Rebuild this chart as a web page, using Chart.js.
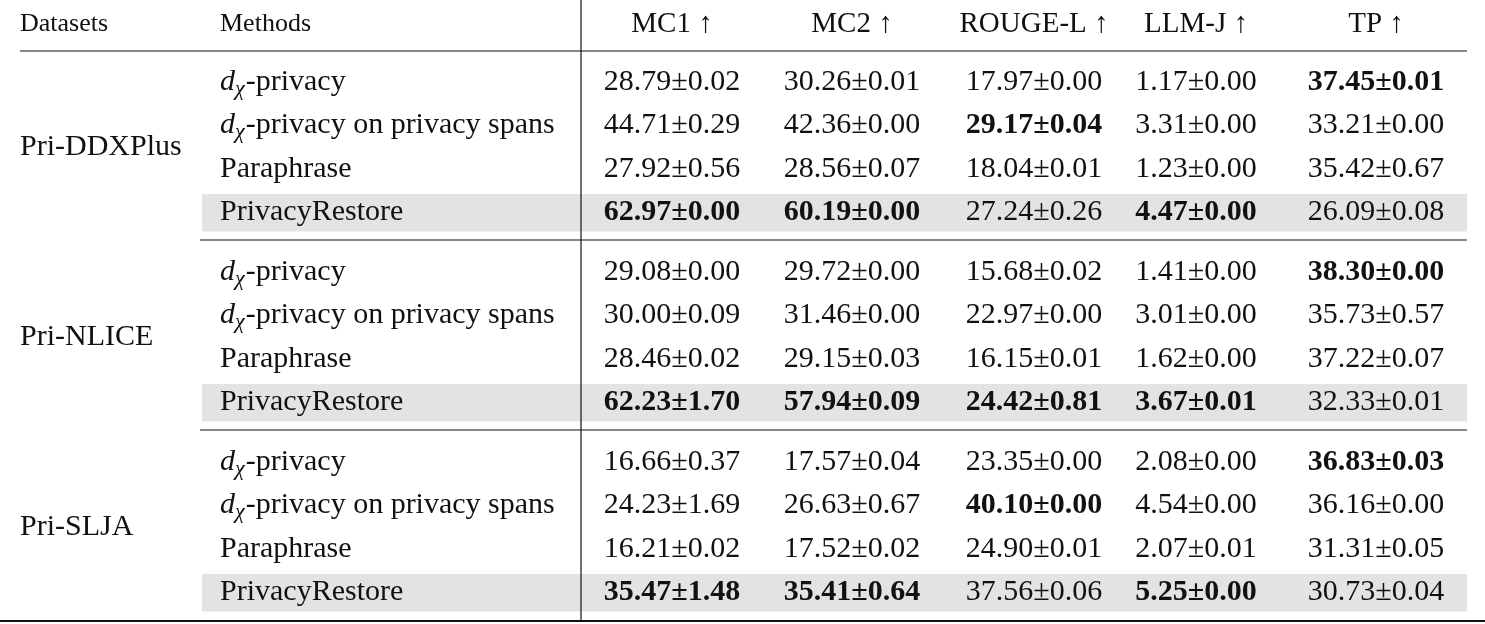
<!DOCTYPE html>
<html><head><meta charset="utf-8">
<script src="https://cdn.jsdelivr.net/npm/chart.js@4"></script>
<style>html,body{margin:0;padding:0;background:#fff}#w{width:1485px;height:624px}</style>
</head><body><div id="w"><canvas id="c"></canvas></div>
<script>
const headers = ["Datasets","Methods","MC1 ↑","MC2 ↑","ROUGE-L ↑","LLM-J ↑","TP ↑"];
const datasets = ["Pri-DDXPlus","Pri-NLICE","Pri-SLJA"];
const methods = ["DX","DXSPAN","Paraphrase","PrivacyRestore"];
const mc1 = [["28.79","0.02"],["44.71","0.29"],["27.92","0.56"],["62.97","0.00"],["29.08","0.00"],["30.00","0.09"],["28.46","0.02"],["62.23","1.70"],["16.66","0.37"],["24.23","1.69"],["16.21","0.02"],["35.47","1.48"]];
const mc2 = [["30.26","0.01"],["42.36","0.00"],["28.56","0.07"],["60.19","0.00"],["29.72","0.00"],["31.46","0.00"],["29.15","0.03"],["57.94","0.09"],["17.57","0.04"],["26.63","0.67"],["17.52","0.02"],["35.41","0.64"]];
const rouge = [["17.97","0.00"],["29.17","0.04"],["18.04","0.01"],["27.24","0.26"],["15.68","0.02"],["22.97","0.00"],["16.15","0.01"],["24.42","0.81"],["23.35","0.00"],["40.10","0.00"],["24.90","0.01"],["37.56","0.06"]];
const llmj = [["1.17","0.00"],["3.31","0.00"],["1.23","0.00"],["4.47","0.00"],["1.41","0.00"],["3.01","0.00"],["1.62","0.00"],["3.67","0.01"],["2.08","0.00"],["4.54","0.00"],["2.07","0.01"],["5.25","0.00"]];
const tp = [["37.45","0.01"],["33.21","0.00"],["35.42","0.67"],["26.09","0.08"],["38.30","0.00"],["35.73","0.57"],["37.22","0.07"],["32.33","0.01"],["36.83","0.03"],["36.16","0.00"],["31.31","0.05"],["30.73","0.04"]];
const bold = {0:[3,7,11],1:[3,7,11],2:[1,7,9],3:[3,7,11],4:[0,4,8]};
const cols = [mc1,mc2,rouge,llmj,tp];

// layout
const colX = [20,220,672,852,1034,1196,1376];
const headY = 24, groupTop = [82,272,462], rowStep = 43.5;
const FONT = '"Liberation Serif","DejaVu Serif",serif';

const pts = [];
cols.forEach((c,ci)=>c.forEach((v,ri)=>pts.push({x:colX[ci+2], y:groupTop[Math.floor(ri/4)]+(ri%4)*rowStep, ci, ri})));

function txt(ctx,s,x,y,opts={}){
  ctx.font=(opts.b?'bold ':'')+(opts.i?'italic ':'')+(opts.size||30)+'px '+FONT;
  ctx.textAlign=opts.align||'left'; ctx.textBaseline='middle'; ctx.fillStyle='#111';
  ctx.fillText(s,x,y); return ctx.measureText(s).width;
}
const tablePlugin = {id:'tbl', afterDraw(chart){
  const ctx=chart.ctx, X=chart.scales.x, Y=chart.scales.y;
  const px=v=>X.getPixelForValue(v), py=v=>Y.getPixelForValue(v);
  ctx.save();
  ctx.fillStyle='#e3e3e3';
  groupTop.forEach(g=>{const yc=g+3*rowStep; ctx.fillRect(px(202),py(yc-18.5),px(1467)-px(202),py(yc+19)-py(yc-18.5));});
  ctx.strokeStyle='#111';
  const hl=(x0,x1,y,w)=>{ctx.lineWidth=w;ctx.beginPath();ctx.moveTo(px(x0),py(y));ctx.lineTo(px(x1),py(y));ctx.stroke();};
  hl(20,1467,51,1.2); hl(200,1467,240,1.2); hl(200,1467,430,1.2); hl(0,1485,621,2);
  ctx.lineWidth=1.2; ctx.beginPath(); ctx.moveTo(px(581),py(0)); ctx.lineTo(px(581),py(621)); ctx.stroke();
  headers.forEach((h,i)=>txt(ctx,h,px(colX[i]),py(headY),{align:i<2?'left':'center',size:i<2?26:29}));
  datasets.forEach((d,g)=>{
    txt(ctx,d,px(colX[0]),py(groupTop[g]+1.5*rowStep));
    methods.forEach((m,k)=>{
      const x=px(colX[1]), y=py(groupTop[g]+k*rowStep);
      if(m==='DX'||m==='DXSPAN'){
        let w=txt(ctx,'d',x,y,{i:true});
        let w2=txt(ctx,'χ',x+w,y+7,{i:true,size:22});
        txt(ctx,m==='DX'?'-privacy':'-privacy on privacy spans',x+w+w2+1,y);
      } else txt(ctx,m,x,y);
    });
  });
  chart.data.datasets[0].data.forEach(p=>{
    const b=bold[p.ci].includes(p.ri);
    const v=cols[p.ci][p.ri];
    txt(ctx,v[0]+'±'+v[1],px(p.x),py(p.y),{align:'center',b});
  });
  ctx.restore();
}};
new Chart(document.getElementById('c'),{
  type:'scatter',
  data:{datasets:[{data:pts,pointRadius:0}]},
  options:{responsive:true,maintainAspectRatio:false,animation:false,
    layout:{padding:0},
    plugins:{legend:{display:false},tooltip:{enabled:false}},
    scales:{x:{type:'linear',min:0,max:1485,display:false},y:{type:'linear',min:0,max:624,reverse:true,display:false}}},
  plugins:[tablePlugin]
});
</script></body></html>
